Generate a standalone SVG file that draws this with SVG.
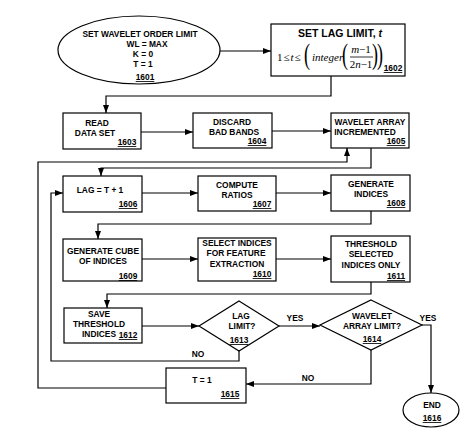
<svg xmlns="http://www.w3.org/2000/svg" width="474" height="448" viewBox="0 0 474 448">
<defs>
<marker id="ah" markerWidth="8" markerHeight="6" refX="8" refY="3" orient="auto" markerUnits="userSpaceOnUse">
<path d="M0,0 L8,3 L0,6 Z" fill="#000"/>
</marker>
<style>
.n{fill:#fff;stroke:#000;stroke-width:1.2}
.t{font-family:"Liberation Sans",Arial,sans-serif;font-weight:bold;font-size:8.4px;text-anchor:middle;fill:#000}
.u{text-decoration:underline}
.c{fill:none;stroke:#000;stroke-width:1.2;marker-end:url(#ah)}
.m{font-family:"Liberation Serif","Times New Roman",serif;font-size:11px;fill:#000}
.i{font-style:italic}
</style>
</defs>
<rect width="474" height="448" fill="#fff"/>
<g id="connectors">
<path class="c" d="M220,51 H271"/>
<path class="c" d="M331,76 V96 H106 V113"/>
<path class="c" d="M141,132 H193"/>
<path class="c" d="M272,131 H331"/>
<path class="c" d="M371,148 V168 H101 V176"/>
<path class="c" d="M166,388 H38 V162 H347 V148"/>
<path class="c" d="M142,193 H198"/>
<path class="c" d="M276,193 H331"/>
<path class="c" d="M371,211 V224 H98 V239"/>
<path class="c" d="M142,259 H198"/>
<path class="c" d="M276,259 H331"/>
<path class="c" d="M371,282 V294 H107 V308"/>
<path class="c" d="M142,326 H199"/>
<path class="c" d="M279,326 H320"/>
<path class="c" d="M239,351 V361 H51 V193 H63"/>
<path class="c" d="M422,325 H431 V393"/>
<path class="c" d="M371,350 V384 H246"/>
<text class="t" x="295" y="321">YES</text>
<text class="t" x="428" y="321">YES</text>
<text class="t" x="198" y="357">NO</text>
<text class="t" x="308" y="381">NO</text>
</g>
<g id="n1601">
<ellipse class="n" cx="139" cy="50" rx="81" ry="34"/>
<text class="t" x="140" y="37">SET WAVELET ORDER LIMIT</text>
<text class="t" x="147" y="47">WL = MAX</text>
<text class="t" x="143" y="57">K = 0</text>
<text class="t" x="143" y="67">T = 1</text>
<text class="t u" x="145" y="80">1601</text>
</g>
<g id="n1602">
<rect class="n" x="271" y="24" width="134" height="52"/>
<text class="t" x="340" y="37" style="font-size:10.5px">SET LAG LIMIT, <tspan font-style="italic">t</tspan></text>
<text class="m" x="277" y="61">1<tspan dx="1">≤</tspan><tspan class="i" dx="1">t</tspan><tspan dx="1">≤</tspan></text>
<text class="m" transform="translate(304,64) scale(1,1.6)" style="font-size:18px">(</text>
<text class="m i" x="312" y="61">integer</text>
<text class="m" transform="translate(342,64) scale(1,1.6)" style="font-size:18px">(</text>
<text class="m" x="361" y="53" text-anchor="middle"><tspan class="i">m</tspan>−1</text>
<line x1="350" y1="57" x2="373" y2="57" stroke="#000" stroke-width="0.8"/>
<text class="m" x="361" y="68" text-anchor="middle">2<tspan class="i">n</tspan>−1</text>
<text class="m" transform="translate(372,64) scale(1,1.6)" style="font-size:18px">)</text>
<text class="m" transform="translate(377,64) scale(1,1.6)" style="font-size:18px">)</text>
<text class="t u" x="393" y="71">1602</text>
</g>
<g id="n1603">
<rect class="n" x="63" y="113" width="78" height="36"/>
<text class="t" x="97" y="126">READ</text>
<text class="t" x="95" y="136">DATA SET</text>
<text class="t u" x="127" y="145">1603</text>
</g>
<g id="n1604">
<rect class="n" x="193" y="113" width="79" height="35"/>
<text class="t" x="232" y="125">DISCARD</text>
<text class="t" x="234" y="135">BAD BANDS</text>
<text class="t u" x="257" y="144">1604</text>
</g>
<g id="n1605">
<rect class="n" x="331" y="113" width="78" height="35"/>
<text class="t" x="370" y="125">WAVELET ARRAY</text>
<text class="t" x="365" y="135">INCREMENTED</text>
<text class="t u" x="396" y="144">1605</text>
</g>
<g id="n1606">
<rect class="n" x="63" y="176" width="79" height="36"/>
<text class="t" x="100" y="193">LAG = T + 1</text>
<text class="t u" x="128" y="207">1606</text>
</g>
<g id="n1607">
<rect class="n" x="198" y="176" width="78" height="35"/>
<text class="t" x="237" y="188">COMPUTE</text>
<text class="t" x="237" y="198">RATIOS</text>
<text class="t u" x="262" y="207">1607</text>
</g>
<g id="n1608">
<rect class="n" x="331" y="175" width="79" height="36"/>
<text class="t" x="371" y="187">GENERATE</text>
<text class="t" x="371" y="197">INDICES</text>
<text class="t u" x="396" y="206">1608</text>
</g>
<g id="n1609">
<rect class="n" x="63" y="239" width="79" height="42"/>
<text class="t" x="103" y="254">GENERATE CUBE</text>
<text class="t" x="103" y="264">OF INDICES</text>
<text class="t u" x="128" y="279">1609</text>
</g>
<g id="n1610">
<rect class="n" x="198" y="238" width="78" height="43"/>
<text class="t" x="237" y="246">SELECT INDICES</text>
<text class="t" x="236" y="256">FOR FEATURE</text>
<text class="t" x="237" y="267">EXTRACTION</text>
<text class="t u" x="262" y="277">1610</text>
</g>
<g id="n1611">
<rect class="n" x="331" y="236" width="79" height="46"/>
<text class="t" x="371" y="247">THRESHOLD</text>
<text class="t" x="371" y="257">SELECTED</text>
<text class="t" x="371" y="268">INDICES ONLY</text>
<text class="t u" x="396" y="279">1611</text>
</g>
<g id="n1612">
<rect class="n" x="64" y="308" width="78" height="35"/>
<text class="t" x="99" y="317">SAVE</text>
<text class="t" x="99" y="327">THRESHOLD</text>
<text class="t" x="99" y="337">INDICES</text>
<text class="t u" x="128" y="338">1612</text>
</g>
<g id="n1613">
<polygon class="n" points="239,301 279,326 239,351 199,326"/>
<text class="t" x="241" y="319">LAG</text>
<text class="t" x="242" y="329">LIMIT?</text>
<text class="t u" x="239" y="343">1613</text>
</g>
<g id="n1614">
<polygon class="n" points="371,300 422,325 371,350 320,325"/>
<text class="t" x="372" y="319">WAVELET</text>
<text class="t" x="372" y="329">ARRAY LIMIT?</text>
<text class="t u" x="372" y="342">1614</text>
</g>
<g id="n1615">
<rect class="n" x="166" y="368" width="80" height="35"/>
<text class="t" x="202" y="383">T = 1</text>
<text class="t u" x="230" y="397">1615</text>
</g>
<g id="n1616">
<ellipse class="n" cx="431" cy="410" rx="28" ry="17"/>
<text class="t" x="432" y="408">END</text>
<text class="t u" x="432" y="421">1616</text>
</g>
</svg>
